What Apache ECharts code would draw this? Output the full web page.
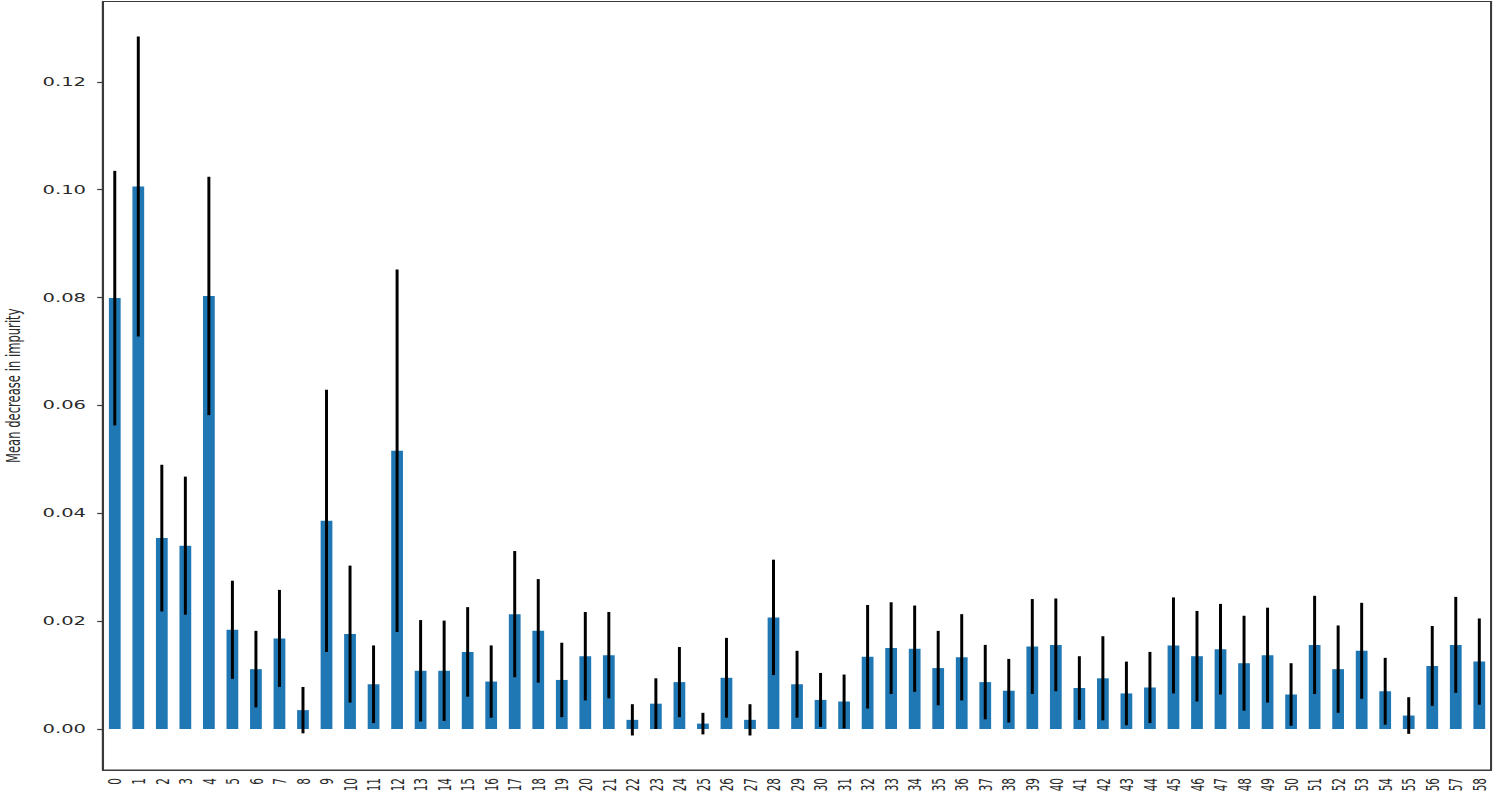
<!DOCTYPE html>
<html>
<head>
<meta charset="utf-8">
<title>Feature importances</title>
<script src="https://cdn.jsdelivr.net/npm/echarts@6/dist/echarts.min.js"></script>
<style>
  html, body { margin: 0; padding: 0; background: #fff; overflow: hidden; }
  #wrap { width: 1506px; height: 808px; overflow: hidden; }
  /* the source figure is a narrower plot stretched sideways, so draw narrow and stretch */
  #chart { width: 886px; height: 808px; transform: scaleX(1.6998); transform-origin: 0 0; }
</style>
</head>
<body>
<div id="wrap"><div id="chart"></div></div>
<script>
// feature index 0..58
const features = [
  '0', '1', '2', '3', '4', '5', '6', '7', '8', '9',
  '10', '11', '12', '13', '14', '15', '16', '17', '18', '19',
  '20', '21', '22', '23', '24', '25', '26', '27', '28', '29',
  '30', '31', '32', '33', '34', '35', '36', '37', '38', '39',
  '40', '41', '42', '43', '44', '45', '46', '47', '48', '49',
  '50', '51', '52', '53', '54', '55', '56', '57', '58'
];

// mean decrease in impurity
const importances = [
  0.0799, 0.1006, 0.0354, 0.0340, 0.0803, 0.0184, 0.0111, 0.0168, 0.0035, 0.0386,
  0.0176, 0.0083, 0.0516, 0.0108, 0.0108, 0.0143, 0.0088, 0.0213, 0.0182, 0.0091,
  0.0135, 0.0137, 0.0017, 0.0047, 0.0087, 0.0010, 0.0095, 0.0017, 0.0207, 0.0083,
  0.0054, 0.0051, 0.0134, 0.0150, 0.0149, 0.0113, 0.0133, 0.0087, 0.0071, 0.0153,
  0.0156, 0.0076, 0.0094, 0.0066, 0.0077, 0.0155, 0.0135, 0.0148, 0.0122, 0.0137,
  0.0064, 0.0156, 0.0111, 0.0145, 0.0070, 0.0025, 0.0117, 0.0156, 0.0125
];

// std over trees (error bar half length)
const stdDevs = [
  0.0236, 0.0278, 0.0136, 0.0128, 0.0221, 0.0091, 0.0071, 0.0090, 0.0043, 0.0243,
  0.0127, 0.0072, 0.0336, 0.0094, 0.0093, 0.0083, 0.0067, 0.0117, 0.0096, 0.0069,
  0.0082, 0.0080, 0.0029, 0.0047, 0.0065, 0.0020, 0.0074, 0.0029, 0.0107, 0.0062,
  0.0050, 0.0050, 0.0096, 0.0085, 0.0080, 0.0069, 0.0080, 0.0069, 0.0059, 0.0088,
  0.0086, 0.0059, 0.0078, 0.0059, 0.0066, 0.0089, 0.0084, 0.0084, 0.0088, 0.0088,
  0.0058, 0.0091, 0.0081, 0.0089, 0.0062, 0.0034, 0.0074, 0.0089, 0.0080
];

const yTicks = [0, 0.02, 0.04, 0.06, 0.08, 0.10, 0.12];

const axisColor = '#3a3a3a';
const textColor = '#2a2a2a';

const chart = echarts.init(document.getElementById('chart'), null, { renderer: 'svg' });

// error bars: [index, mean, std]
const errData = importances.map((v, i) => [i, v, stdDevs[i]]);

const option = {
  animation: false,
  backgroundColor: '#fff',
  grid: {
    left: 60.6,
    right: 8.8,
    top: 1.5,
    bottom: 38,
    outerBoundsMode: 'none',
    containLabel: false,
    show: true,
    borderColor: axisColor,
    borderWidth: 1.2,
    backgroundColor: 'transparent'
  },
  xAxis: {
    type: 'category',
    data: features,
    boundaryGap: true,
    axisLine: { onZero: false, lineStyle: { color: axisColor, width: 1.2 } },
    axisTick: { alignWithLabel: true, length: 4.5, lineStyle: { color: axisColor, width: 0.9 } },
    axisLabel: {
      interval: 0,
      rotate: 90,
      margin: 8,
      color: textColor,
      fontSize: 10.5,
      fontFamily: '"DejaVu Sans", sans-serif'
    },
    splitLine: { show: false }
  },
  yAxis: {
    type: 'value',
    min: -0.0076,
    max: 0.1349,
    name: 'Mean decrease in impurity',
    nameLocation: 'middle',
    nameGap: 38,
    nameTextStyle: {
      color: textColor,
      fontSize: 11.6,
      fontFamily: '"DejaVu Sans", sans-serif'
    },
    axisLine: { show: true, lineStyle: { color: axisColor, width: 1.2 } },
    axisTick: {
      show: true,
      length: 3.4,
      customValues: yTicks,
      lineStyle: { color: axisColor, width: 1.2 }
    },
    axisLabel: {
      customValues: yTicks,
      margin: 10,
      color: textColor,
      fontSize: 11.5,
      fontFamily: '"DejaVu Sans", sans-serif',
      formatter: (v) => v.toFixed(2)
    },
    splitLine: { show: false }
  },
  series: [
    {
      type: 'bar',
      data: importances,
      barWidth: '50%',
      itemStyle: { color: '#1f77b4' }
    },
    {
      type: 'custom',
      data: errData,
      z: 5,
      renderItem: (params, api) => {
        const i = api.value(0);
        const mean = api.value(1);
        const sd = api.value(2);
        const lo = api.coord([i, mean - sd]);
        const hi = api.coord([i, mean + sd]);
        return {
          type: 'line',
          shape: { x1: lo[0], y1: lo[1], x2: hi[0], y2: hi[1] },
          style: { stroke: '#000', lineWidth: 1.75 }
        };
      }
    }
  ]
};

chart.setOption(option);
</script>
</body>
</html>
